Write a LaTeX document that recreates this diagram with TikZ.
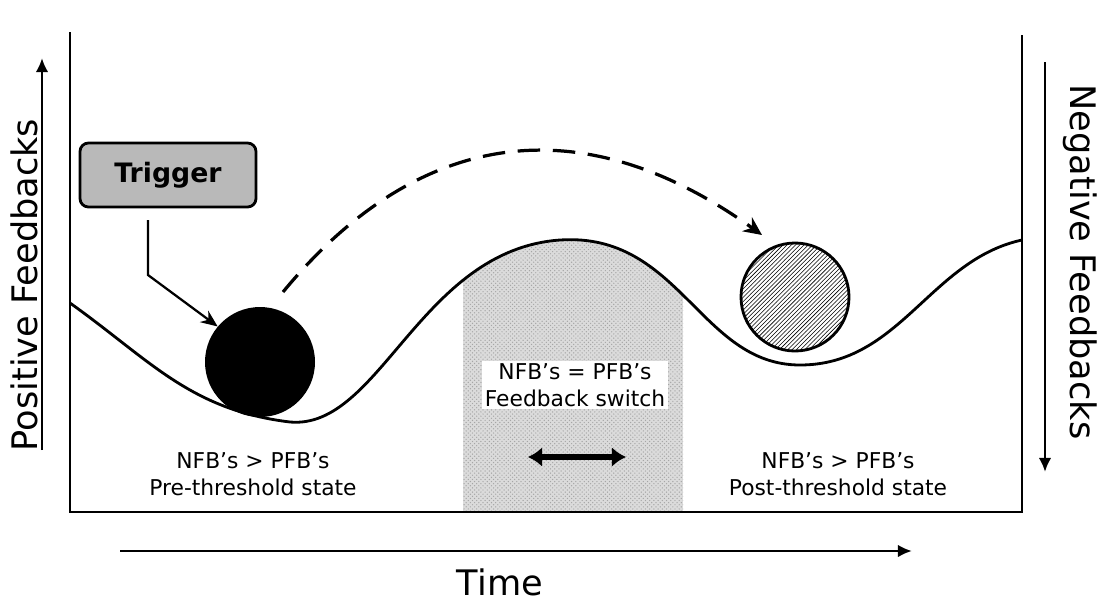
\documentclass[tikz,border=0pt]{standalone}
\usepackage{fontspec}
\setmainfont{DejaVu Sans}
\usetikzlibrary{arrows.meta,patterns}
\begin{document}
\begin{tikzpicture}[x=0.025cm,y=-0.025cm,
  frame/.style={line width=2pt},
  lbl/.style={font=\fontsize{15.5}{19}\selectfont,align=center},
  big/.style={font=\fontsize{25}{28}\selectfont}]
\useasboundingbox (0,0) rectangle (1110,606);
\def\curve{(70,303) .. controls (150,360) and (190,410) .. (290,422) .. controls (380,430) and (420,250) .. (560,240) .. controls (680,232) and (700,365) .. (800,365) .. controls (900,365) and (930,260) .. (1022,240)}
\begin{scope}
\clip \curve -- (1022,512) -- (70,512) -- cycle;
\fill[gray!28] (463,200) rectangle (683,512);
\fill[pattern=crosshatch dots,pattern color=gray!70] (463,200) rectangle (683,512);
\end{scope}
\draw[line width=2pt] \curve;
\draw[frame] (70,32) -- (70,512) -- (1022,512) -- (1022,35);
\node[lbl,fill=white,inner sep=2pt] (sw) at (575,385) {NFB’s = PFB’s\\Feedback switch};
\coordinate (dl) at (528,457); \coordinate (dr) at (626,457);
\draw[line width=4pt,{Latex[length=10pt,width=14pt]}-{Latex[length=10pt,width=14pt]}] (dl) -- (dr);
\node[lbl] (pre) at (253,474) {NFB’s > PFB’s\\Pre-threshold state};
\node[lbl] (post) at (838,474) {NFB’s > PFB’s\\Post-threshold state};
\node[circle,fill=black,minimum size=110*0.025cm,inner sep=0] (b1) at (260,362) {};
\node[circle,draw,line width=2pt,pattern=north east lines,minimum size=108*0.025cm,inner sep=0] (b2) at (795,297) {};
\node[draw,line width=2pt,rounded corners=6pt,fill=gray!55,minimum width=176*0.025cm,minimum height=64*0.025cm,font=\bfseries\fontsize{19}{22}\selectfont] (trig) at (168,175) {Trigger};
\coordinate (t1) at (148,220); \coordinate (t2) at (148,275);
\draw[line width=1.6pt,-{Stealth[length=12pt,width=10pt]}] (t1) -- (t2) -- (b1.140);
\coordinate (d1) at (283,292); \coordinate (d2) at (762,235);
\draw[line width=2.3pt,dash pattern=on 16pt off 9pt,-{Stealth[length=13pt,width=12pt]}] (d1) .. controls (400,150) and (560,90) .. (d2);
\coordinate (pa) at (42,450); \coordinate (pb) at (42,58);
\draw[line width=2pt,-{Latex[length=10pt,width=9pt]}] (pa) -- (pb);
\node[big,rotate=90] (pl) at (24,285) {Positive Feedbacks};
\coordinate (na) at (1045,62); \coordinate (nb) at (1045,472);
\draw[line width=2pt,-{Latex[length=10pt,width=9pt]}] (na) -- (nb);
\node[big,rotate=-90] (nl) at (1080,262) {Negative Feedbacks};
\coordinate (ta) at (120,551); \coordinate (tb) at (912,551);
\draw[line width=2pt,-{Latex[length=10pt,width=9pt]}] (ta) -- (tb);
\node[big] (time) at (500,582) {Time};
\end{tikzpicture}
\end{document}
